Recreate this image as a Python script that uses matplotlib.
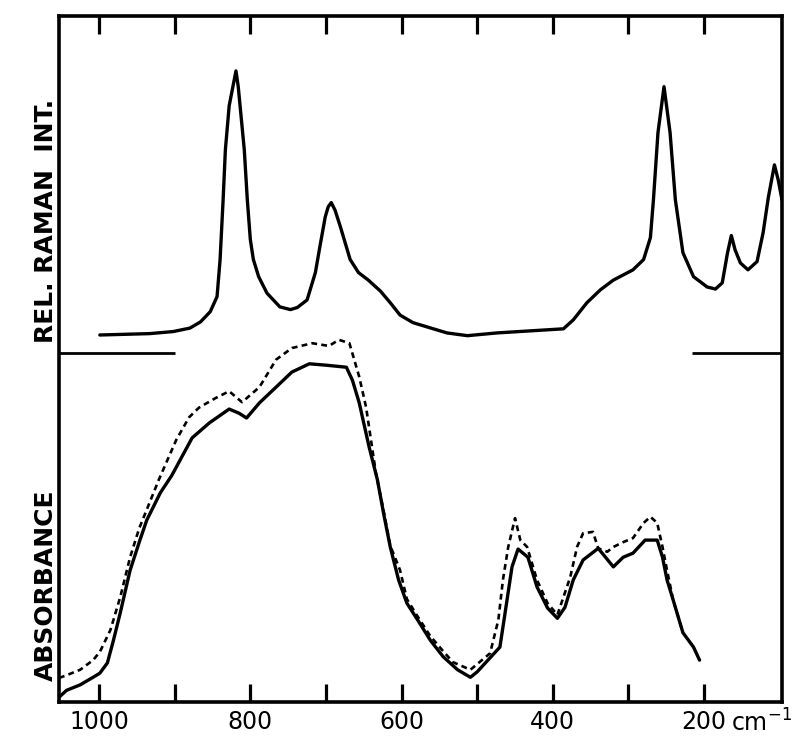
import matplotlib
matplotlib.use('Agg')
from matplotlib import pyplot as plt
from matplotlib import font_manager

# Raman spectrum (upper trace), height above its own baseline
raman_wn = [999, 933, 902, 880, 866, 853, 844, 840, 836, 833, 828, 822, 819, 816,
            808, 804, 800, 796, 789, 778, 761, 747, 738, 725, 714, 708, 701, 697,
            693, 688, 681, 668, 657, 644, 628, 615, 602, 585, 540, 513, 474, 430, 386,
            373, 355, 337, 320, 294, 280, 271, 267, 261, 253, 245, 238, 228, 214, 196,
            185, 176, 169, 164, 159, 152, 142, 130, 122, 115, 107, 102, 97]
raman_int = [2.6, 2.8, 3.1, 3.6, 4.5, 6.0, 8.2, 13.6, 22.3, 29.6, 36.0, 39.4, 41.1, 38.8,
             29.6, 22.3, 16.5, 13.6, 11.1, 8.7, 6.7, 6.3, 6.6, 7.7, 11.7, 15.5, 19.8, 21.3,
             21.9, 20.8, 18.4, 13.6, 11.7, 10.6, 9.0, 7.3, 5.5, 4.4, 2.9, 2.5, 2.9, 3.2, 3.5,
             4.8, 7.3, 9.2, 10.6, 12.1, 13.6, 16.8, 22.3, 32.1, 38.8, 32.1, 22.3, 14.6, 11.1, 9.6,
             9.3, 10.2, 14.6, 17.1, 15.0, 13.1, 12.1, 13.3, 17.5, 22.7, 27.4, 25.2, 22.3]
raman_base = 50.9
raman_zero_left = (1053, 900)
raman_zero_right = (216, 97)

# IR absorbance, solid trace
abs_wn = [1053, 1043, 1025, 1008, 999, 989, 981, 972, 959, 946, 937, 919, 904, 877,
          854, 828, 815, 805, 788, 766, 745, 722, 700, 673, 665, 656, 643, 632,
          624, 615, 604, 593, 579, 562, 545, 526, 509, 500, 470, 460, 454, 446, 433, 421, 407,
          394, 384, 373, 360, 340, 320, 307, 294, 278, 262, 255, 249, 241, 228, 214, 206]
abs_solid = [0.7, 1.7, 2.5, 3.6, 4.2, 5.7, 9.0, 13.0, 19.2, 23.6, 26.5, 30.5, 33.0, 38.5,
             40.7, 42.7, 42.1, 41.4, 43.6, 45.9, 48.1, 49.3, 49.1, 48.8, 46.9, 43.6, 37.2, 32.4,
             27.6, 22.6, 17.8, 14.4, 12.0, 9.0, 6.6, 4.7, 3.6, 4.4, 8.0, 15.3, 19.7, 22.3, 21.1, 16.8, 13.7,
             12.2, 13.8, 17.8, 20.7, 22.4, 19.7, 21.1, 21.7, 23.6, 23.6, 21.1, 17.8, 14.9, 10.1, 8.0, 6.1]

# IR absorbance, dashed trace
dash_wn = [1053, 1043, 1025, 1008, 999, 985, 972, 959, 947, 921, 898, 881, 868, 846,
           828, 811, 788, 766, 745, 718, 696, 683, 669, 656, 647, 634, 624, 615, 602,
           593, 579, 562, 545, 532, 509, 483, 472, 466, 459, 450, 443, 434, 421, 407,
           394, 377, 368, 360, 347, 340, 328, 320, 307, 294, 280, 271, 262, 255, 249, 241, 228]
abs_dash = [3.5, 3.9, 4.7, 6.1, 7.3, 10.5, 15.3, 21.1, 25.3, 32.4, 38.2, 41.5, 42.9, 44.3,
            45.3, 43.7, 45.9, 49.9, 51.6, 52.3, 51.9, 52.8, 52.3, 47.4, 43.0, 33.4, 28.0, 22.8, 19.2,
            15.0, 12.5, 9.6, 7.4, 5.8, 4.7, 7.1, 12.0, 17.8, 22.6, 26.8, 23.6, 22.6, 17.8, 14.4,
            12.7, 18.2, 22.6, 24.6, 24.8, 22.4, 21.9, 22.6, 23.3, 23.9, 26.1, 27.0, 26.1, 22.6, 19.2,
            14.9, 10.1]

major_ticks = [1000, 800, 600, 400, 200]
minor_ticks = [900, 700, 500, 300]
tick_labels = ['1000', '800', '600', '400', '200']


def pick_font(names):
    for n in names:
        try:
            font_manager.findfont(n, fallback_to_default=False)
            return n
        except ValueError:
            pass
    return 'DejaVu Sans'


num_font = pick_font(['Liberation Sans Narrow'])
num_size = 21 if num_font != 'DejaVu Sans' else 17

fig = plt.figure(figsize=(8.02, 7.41), dpi=100)
ax = fig.add_axes([59 / 802, 39 / 741, 723 / 802, 686 / 741])

lw = 2.4
ax.plot(raman_wn, [raman_base + v for v in raman_int], color='black', lw=lw,
        solid_joinstyle='round', solid_capstyle='round')
ax.hlines(raman_base, *raman_zero_left, color='black', lw=2.0)
ax.hlines(raman_base, *raman_zero_right, color='black', lw=2.0)
ax.plot(abs_wn, abs_solid, color='black', lw=lw, solid_joinstyle='round',
        solid_capstyle='round')
ax.plot(dash_wn, abs_dash, color='black', lw=1.9, linestyle=(0, (2.2, 1.6)))

ax.set_xlim(1053, 97)
ax.set_ylim(0, 100)

for s in ax.spines.values():
    s.set_linewidth(2.6)
ax.set_yticks([])
ax.set_xticks(major_ticks)
ax.set_xticklabels(tick_labels, fontfamily=num_font, fontsize=num_size)
ax.set_xticks(minor_ticks, minor=True)
ax.tick_params(axis='x', which='both', direction='in', top=True, bottom=True,
               length=13, width=2.3, pad=6)

fig.text(731 / 802, 1 - 723 / 741, 'cm$^{-1}$', fontfamily=num_font, fontsize=num_size,
         ha='left', va='center')
fig.text(46 / 802, 1 - 221 / 741, 'REL. RAMAN  INT.', rotation=90, fontsize=18,
         fontweight='bold', ha='center', va='center')
fig.text(46 / 802, 1 - 585 / 741, 'ABSORBANCE', rotation=90, fontsize=18,
         fontweight='bold', ha='center', va='center')

fig.savefig('out.png', dpi=100)
